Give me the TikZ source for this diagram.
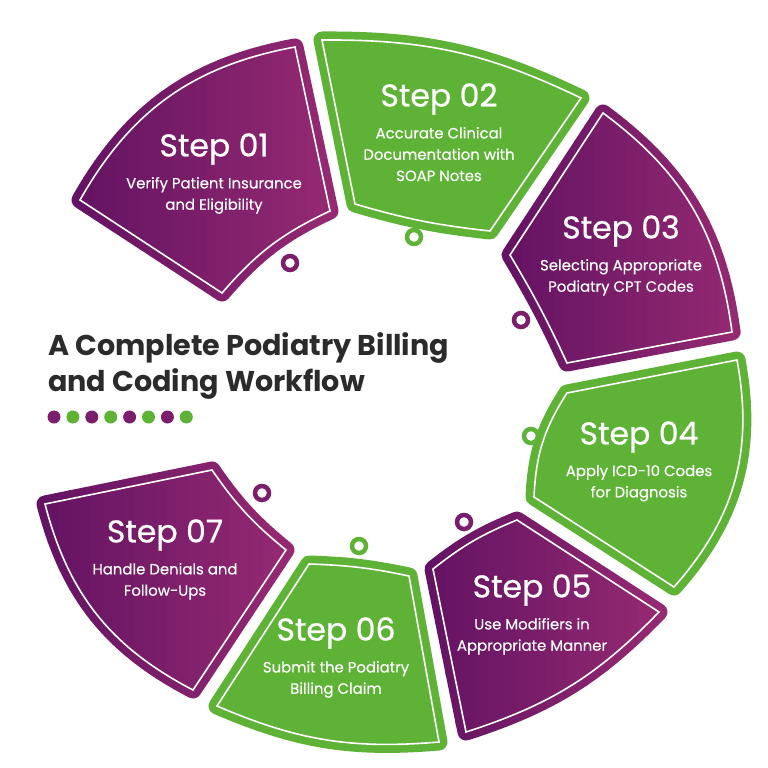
\documentclass[tikz,border=0pt]{standalone}
\usepackage{fontspec}
\setmainfont{Poppins}
\newfontfamily\stepfont{Poppins}[FakeBold=0.7]
\newfontfamily\bodyfont{Poppins}[FakeBold=0.35]
\usepackage{tikz}
\usetikzlibrary{positioning}
\definecolor{plumdark}{HTML}{631363}
\definecolor{plumlight}{HTML}{962A72}
\definecolor{plum}{HTML}{7B1E6C}
\definecolor{leaf}{HTML}{5EB337}
\definecolor{ink}{HTML}{2B2B2B}
\tikzset{
  segline/.style  = {draw=white, line width=1.6},
  segfill/.style  = {line width=17, line join=round},
  ring/.style     = {line width=4.5},
  dot/.style      = {circle, inner sep=0pt, minimum size=13},
  stephead/.style = {text=white, inner sep=0pt, font=\stepfont\fontsize{31.5}{31.5}\selectfont},
  stepbody/.style = {text=white, inner sep=0pt, align=center,
                     font=\bodyfont\fontsize{14.9}{21.3}\selectfont},
  heading/.style  = {text=ink, inner sep=0pt, align=left,
                     font=\bfseries\fontsize{28.6}{36}\selectfont},
}
% outline of each step (the white line); the coloured body is this path widened
\def\segone{(80,200) to[bend left=25] (295,47) -- (330,211) to[bend right=12] (222,293) -- cycle}
\def\segtwo{(322,40) to[bend left=13] (581,98) -- (490,231) to[bend left=5] (355,204) -- cycle}
\def\segthree{(603,113) to[bend left=23] (732,332) -- (567,363) to[bend right=3] (510,255) -- cycle}
\def\segfour{(567,393) -- (737,360) to[bend left=26] (674,587) -- (534,497) to[bend left=15] (567,393) -- cycle}
\def\segfive{(517,520) -- (659,612) to[bend left=14] (466,732) -- (433,569) to[bend left=8] (517,520) -- cycle}
\def\segsix{(309,564) to[bend left=5] (409,576) -- (439,742) to[bend left=14] (217,706) -- cycle}
\def\segseven{(45,504) -- (212,470) to[bend right=8] (286,550) -- (193,690) to[bend left=24] (45,504) -- cycle}
% purple body: stepped left-to-right gradient
\newcommand{\plumbody}[3]{%
  \foreach \k in {0,...,23}{
    \pgfmathsetmacro{\xa}{\k==0 ? -50 : #2+(#3-#2)*\k/24}
    \pgfmathsetmacro{\xb}{\k==23 ? 900 : #2+(#3-#2)*(\k+1)/24+0.6}
    \pgfmathtruncatemacro{\mix}{100*\k/23}
    \begin{scope}
      \clip (\xa,-50) rectangle (\xb,900);
      \path[segfill, fill=plumlight!\mix!plumdark, draw=plumlight!\mix!plumdark] #1;
    \end{scope}
  }
}

\begin{document}
\begin{tikzpicture}[x=1pt, y=-1pt]
  \useasboundingbox (0,0) rectangle (768,768);
  \fill[white] (0,0) rectangle (768,768);

  % bodies
  \plumbody{\segone}{72}{340}
  \path[segfill, fill=leaf, draw=leaf] \segtwo;
  \plumbody{\segthree}{502}{750}
  \path[segfill, fill=leaf, draw=leaf] \segfour;
  \plumbody{\segfive}{425}{668}
  \path[segfill, fill=leaf, draw=leaf] \segsix;
  \plumbody{\segseven}{37}{295}

  % white inner lines
  \foreach \s in {\segone,\segtwo,\segthree,\segfour,\segfive,\segsix,\segseven}
    {\path[segline] \s;}

  % small rings
  \draw[ring, plum] (290,263) circle (7);
  \draw[ring, leaf] (414,237) circle (7);
  \draw[ring, plum] (521,320) circle (7);
  \draw[ring, leaf] (531,436) circle (7);
  \draw[ring, plum] (464,522) circle (7);
  \draw[ring, leaf] (359,546) circle (7);
  \draw[ring, plum] (262,493) circle (7);

  % texts
  \node[stephead] (s1) at (214,149) {Step 01};
  \node[stepbody, below=12pt of s1] (b1) {Verify Patient Insurance\\and Eligibility};
  \node[stephead] (s2) at (439,99) {Step 02};
  \node[stepbody, below=12pt of s2] (b2) {Accurate Clinical\\Documentation with\\SOAP Notes};
  \node[stephead] (s3) at (621,231) {Step 03};
  \node[stepbody, below=12pt of s3] (b3) {Selecting Appropriate\\Podiatry CPT Codes};
  \node[stephead] (s4) at (639,437) {Step 04};
  \node[stepbody, below=12pt of s4] (b4) {Apply ICD-10 Codes\\for Diagnosis};
  \node[stephead] (s5) at (532,590) {Step 05};
  \node[stepbody, below=12pt of s5] (b5) {Use Modifiers in\\Appropriate Manner};
  \node[stephead] (s6) at (336,633) {Step 06};
  \node[stepbody, below=12pt of s6] (b6) {Submit the Podiatry\\Billing Claim};
  \node[stephead] (s7) at (165,535) {Step 07};
  \node[stepbody, below=12pt of s7] (b7) {Handle Denials and\\Follow-Ups};

  \node[heading, anchor=base west] (title) at (48,391)
       {A Complete Podiatry Billing\\and Coding Workflow};
  \foreach \i in {0,...,7}{
    \pgfmathtruncatemacro{\odd}{mod(\i,2)}
    \ifnum\odd=0 \def\dc{plum}\else\def\dc{leaf}\fi
    \node[dot, fill=\dc] (d\i) at (54+18.9*\i,417) {};
  }
\end{tikzpicture}
\end{document}
